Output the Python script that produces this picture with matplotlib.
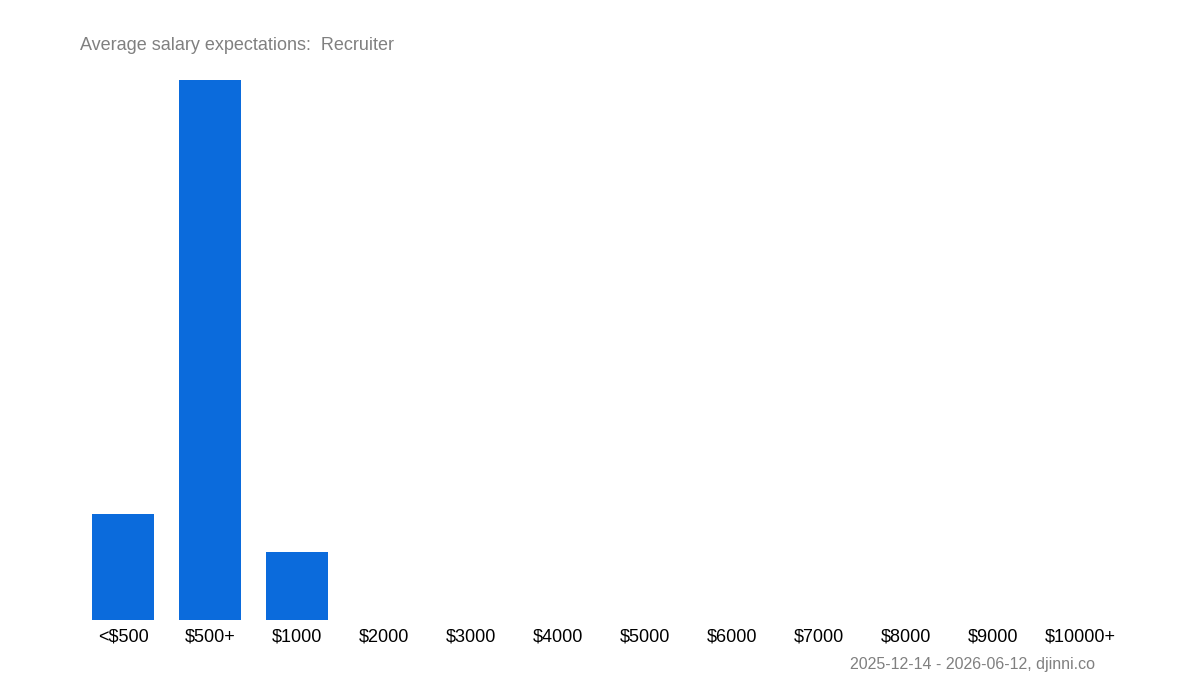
import matplotlib
matplotlib.use("Agg")
import matplotlib.pyplot as plt

categories = ["<$500", "$500+", "$1000", "$2000", "$3000", "$4000", "$5000",
              "$6000", "$7000", "$8000", "$9000", "$10000+"]
counts = [14, 71, 9, 0, 0, 0, 0, 0, 0, 0, 0, 0]

title = "Average salary expectations:  Recruiter"
footer = "2025-12-14 - 2026-06-12, djinni.co"

plt.rcParams["font.family"] = ["Liberation Sans", "DejaVu Sans"]

fig = plt.figure(figsize=(12, 7), dpi=100)
ax = fig.add_axes([0.0663, 0.1143, 0.87, 0.7714])

x = list(range(len(categories)))
ax.bar(x, counts, width=0.71, color="#0b6bdc")
ax.set_xlim(-0.5, len(categories) - 0.5)
ax.set_ylim(0, max(counts))
ax.set_xticks(x)
ax.set_xticklabels(categories, fontsize=13, color="black")
ax.tick_params(axis="x", length=0, pad=6)
ax.set_yticks([])
for s in ax.spines.values():
    s.set_visible(False)

fig.text(80 / 1200, 1 - 46 / 700, title, fontsize=13, color="#808080",
         ha="left", va="center")
fig.text(1095 / 1200, 1 - 665 / 700, footer, fontsize=11.5, color="#808080",
         ha="right", va="center")

fig.savefig("out.png", dpi=100)
